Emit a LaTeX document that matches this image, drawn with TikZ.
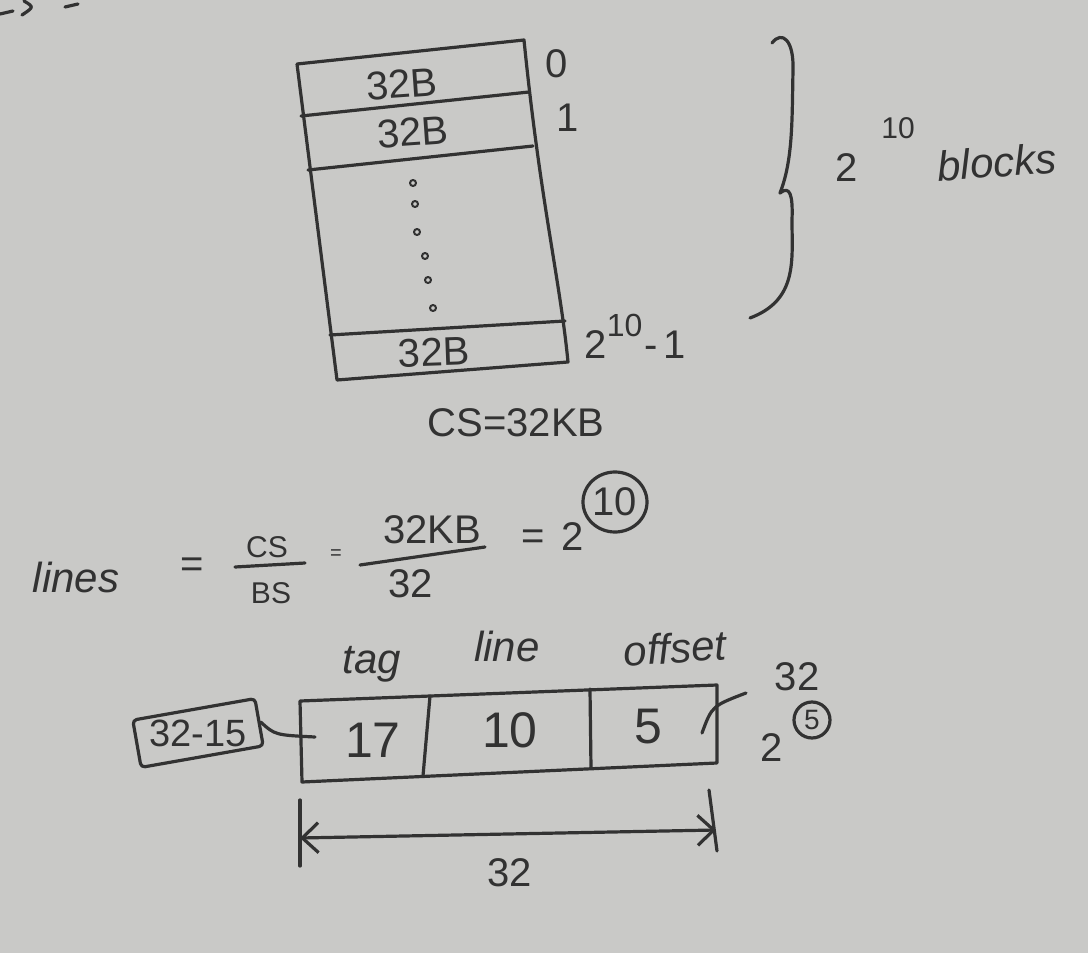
\documentclass[tikz,border=0pt]{standalone}
\usepackage{fontspec}
\setmainfont{Liberation Sans}
\usetikzlibrary{arrows.meta,calc}
\definecolor{paper}{RGB}{201,201,199}
\definecolor{ink}{RGB}{50,50,50}
\begin{document}
\begin{tikzpicture}[x=1pt,y=-1pt,line width=3.2pt,draw=ink,line join=round,line cap=round,
  txt/.style={text=ink,inner sep=0pt,font=\fontsize{40}{42}\selectfont},
  big/.style={text=ink,inner sep=0pt,font=\fontsize{50}{52}\selectfont},
  small/.style={text=ink,inner sep=0pt,font=\fontsize{30}{32}\selectfont},
  word/.style={text=ink,inner sep=0pt,font=\fontsize{42}{44}\selectfont\itshape},
  dotopen/.style={draw=ink,line width=2pt},
  barb/.style={{Straight Barb[length=16pt,width=30pt,line width=3.2pt]}-{Straight Barb[length=16pt,width=30pt,line width=3.2pt]}}]
\fill[paper] (0,0) rectangle (1088,953);
\useasboundingbox (0,0) rectangle (1088,953);

% stray marks at top-left
\draw (0,14) -- (13,11);
\draw (24,1) .. controls (34,7) .. (22,15);
\draw (65,7) -- (78,4);

% ---------------- memory blocks ----------------
\coordinate (mtl) at (297,64);
\coordinate (mtr) at (524,40);
\coordinate (mbr) at (568,362);
\coordinate (mbl) at (337,380);
\coordinate (d1l) at (301,116); \coordinate (d1r) at (529,92);
\coordinate (d2l) at (308,170); \coordinate (d2r) at (533,146);
\coordinate (d3l) at (330,335); \coordinate (d3r) at (565,321);
\draw (mtl) -- (mtr) .. controls (540,200) and (560,280) .. (mbr) -- (mbl) -- (mtl);
\draw (d1l) -- (d1r);
\draw (d2l) -- (d2r);
\draw (d3l) -- (d3r);
\node[txt,rotate=4] (r0) at (402,84) {32B};
\node[txt,rotate=4] (r1) at (413,132) {32B};
\node[txt,rotate=2] (rn) at (434,352) {32B};
\foreach \p/\q in {413/183,415/204,417/232,425/256,428/280,433/308}
  \draw[dotopen] (\p,\q) circle (3);
\node[txt] (i0) at (557,64) {0};
\node[txt] (i1) at (568,118) {1};
\node[txt,anchor=west] (in) at (583,336) {2\raisebox{0.55em}{\fontsize{32}{34}\selectfont 10}\kern0.05em{-}\kern0.15em1};

% brace
\draw (772,43) .. controls (782,30) and (794,40) .. (793,70)
      .. controls (792,120) and (793,160) .. (780,193);
\draw (780,193) .. controls (790,185) and (793,195) .. (792,220)
      .. controls (792,260) and (798,300) .. (750,318);
\node[txt] (two) at (847,168) {2};
\node[small] (ten) at (898,128) {10};
\node[word,rotate=4] (blk) at (997,162) {blocks};

\node[txt] (cs) at (516,423) {CS=32KB};

% ---------------- lines equation ----------------
\node[word] (lines) at (76,577) {lines};
\node[txt] (eq1) at (192,568) {=};
\node[small] (csn) at (267,547) {CS};
\node[small] (bsd) at (271,593) {BS};
\draw (235,567) -- (305,563);
\node[text=ink,inner sep=0pt,font=\fontsize{20}{22}\selectfont] (eq2) at (336,555) {=};
\node[txt] (kbn) at (432,530) {32KB};
\node[txt] (kbd) at (411,584) {32};
\draw (360,565) -- (485,547);
\node[txt] (eq3) at (533,540) {=};
\node[txt] (two2) at (573,537) {2};
\node[txt] (e10) at (615,502) {10};
\draw (e10) ellipse (32 and 30);

% ---------------- address format ----------------
\node[word] (tag) at (372,664) {tag};
\node[word] (line) at (507,646) {line};
\node[word,rotate=4] (off) at (675,648) {offset};

\coordinate (atl) at (300,701);
\coordinate (atr) at (717,685);
\coordinate (abr) at (717,763);
\coordinate (abl) at (302,782);
\draw (atl) -- (atr) -- (abr) -- (abl) -- cycle;
\draw (430,696) -- (423,776);
\draw (590,689) -- (591,768);
\node[big] (c17) at (373,740) {17};
\node[big] (c10) at (510,730) {10};
\node[big] (c5) at (648,727) {5};

\node[draw=ink,line width=3.2pt,rounded corners=4pt,inner sep=0pt,minimum width=124pt,minimum height=48pt,rotate=10] (sub) at (198,733) {};
\node[text=ink,inner sep=0pt,font=\fontsize{38}{40}\selectfont] (subt) at (sub.center) {32-15};
\coordinate (subend) at (315,737);
\draw (sub.east) .. controls (275,735) .. (subend);

\coordinate (tk1) at (702,733);
\coordinate (tk2) at (746,693);
\draw (tk1) .. controls (712,706) .. (tk2);
\node[txt] (n32) at (797,677) {32};
\node[txt] (n2) at (772,748) {2};
\node[text=ink,inner sep=0pt,font=\fontsize{28}{30}\selectfont] (n5) at (812,720) {5};
\draw (n5) circle (18);

% dimension arrow
\coordinate (dl) at (300,838);
\coordinate (dr) at (716,830);
\draw (300,800) -- (300,866);
\draw (709,790) -- (717,851);
\draw[barb] (dl) -- (dr);
\node[txt] (w32) at (510,873) {32};
\end{tikzpicture}
\end{document}
